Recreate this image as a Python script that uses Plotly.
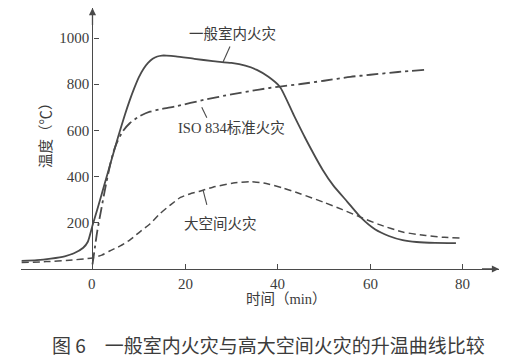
import plotly.graph_objects as go

# ---- data ----
room_t = [-15.3, -12, -9, -6, -4, -2, -1, 0, 1, 2, 3, 4, 5, 6, 7, 8, 9, 10, 11, 12, 13, 14, 15, 16,
          18, 22, 26, 30, 33, 35.5, 38, 40.5, 43.5, 46, 49.7, 52, 55, 58, 61, 64, 67, 70, 74, 78.5]
room_v = [35, 38, 45, 55, 68, 92, 118, 188, 255, 325, 395, 465, 535, 603, 668, 728, 782, 830, 866, 892, 910, 920, 924, 924,
          921, 910, 900, 892, 880, 862, 832, 788, 665, 565, 430, 362, 292, 222, 172, 143, 125, 117, 113, 112]

iso_t = [0, 0.5, 1, 2, 3, 3.8, 4.5, 5.2, 6.5, 8.1, 10, 12.4, 15, 18.2, 24, 30, 36, 40.5, 45, 50, 55.7, 60, 66, 72]
iso_v = [20, 90, 160, 270, 375, 450, 505, 544, 595, 632, 660, 681, 693, 705, 732, 756, 777, 790, 801, 815, 832, 841, 853, 863]

big_t = [-15.3, -10, -5, 0, 2, 3.7, 6, 8.1, 10.3, 12.4, 14.6, 17, 19, 21, 23.2, 26, 30.4, 34, 37, 41.1, 45,
         49.8, 54, 57.8, 62, 67, 72, 76, 79.3]
big_v = [28, 32, 38, 48, 60, 78, 100, 126, 162, 195, 240, 280, 310, 325, 337, 354, 372, 378, 372, 351, 325,
         290, 257, 225, 192, 160, 145, 137, 134]

x_ticks = [0, 20, 40, 60, 80]
y_ticks = [200, 400, 600, 800, 1000]

label_room = "一般室内火灾"
label_iso = "ISO 834标准火灾"
label_big = "大空间火灾"
x_title = "时间（min）"
y_title = "温度（℃）"
caption = "图 6\u3000一般室内火灾与高大空间火灾的升温曲线比较"

# ---- figure ----
X_RANGE = [-15.44, 87.8]
Y_RANGE = [0, 1130]
LINE = "#4a4a4a"
TXT = "#3c3c3c"
SERIF = "Liberation Serif, Noto Sans CJK SC, serif"
CJK = "Noto Sans CJK SC, Liberation Serif, sans-serif"

fig = go.Figure()
fig.add_trace(go.Scatter(x=room_t, y=room_v, mode="lines", line=dict(color=LINE, width=1.8, shape="spline", smoothing=0.6),
                         showlegend=False, cliponaxis=False))
fig.add_trace(go.Scatter(x=iso_t, y=iso_v, mode="lines",
                         line=dict(color=LINE, width=1.8, dash="12px,4px,3px,4px", shape="spline", smoothing=0.6),
                         showlegend=False, cliponaxis=False))
fig.add_trace(go.Scatter(x=big_t, y=big_v, mode="lines",
                         line=dict(color=LINE, width=1.5, dash="7px,4px", shape="spline", smoothing=0.6),
                         showlegend=False, cliponaxis=False))

OFF = 8  # page body margin in the browser
W, H = 515 - OFF, 357 - OFF
L, R, T, B = 21 - OFF, 16, 0, 88
PW, PH = W - L - R, H - T - B
ypos = (0 - X_RANGE[0]) / (X_RANGE[1] - X_RANGE[0])


def px_x(px):
    return (px - OFF - L) / PW


def px_y(py):
    return ((H - B) - (py - OFF)) / PH


fig.update_layout(
    width=W, height=H, margin=dict(l=L, r=R, t=T, b=B, autoexpand=False),
    paper_bgcolor="white", plot_bgcolor="white",
    xaxis=dict(range=X_RANGE, tickvals=x_ticks, showticklabels=False,
               showgrid=False, zeroline=False, showline=True, linecolor=LINE, linewidth=1.3,
               ticks="inside", ticklen=5, tickcolor=LINE, tickwidth=1.2, automargin=False),
    yaxis=dict(range=Y_RANGE, tickvals=y_ticks, ticktext=[str(v) for v in y_ticks],
               anchor="free", position=ypos, automargin=False,
               showgrid=False, zeroline=False, showline=True, linecolor=LINE, linewidth=1.3,
               ticks="inside", ticklen=5, tickcolor=LINE, tickwidth=1.2,
               tickfont=dict(family=SERIF, size=15, color=TXT)),
)

ann = []
# axis arrowheads
ann.append(dict(x=X_RANGE[1], y=0, ax=X_RANGE[1] - 4, ay=0, xref="x", yref="y", axref="x", ayref="y",
                text="", showarrow=True, arrowhead=2, arrowsize=1.1, arrowwidth=1.3, arrowcolor=LINE))
ann.append(dict(x=0, y=Y_RANGE[1], ax=0, ay=Y_RANGE[1] - 80, xref="x", yref="y", axref="x", ayref="y",
                text="", showarrow=True, arrowhead=2, arrowsize=1.1, arrowwidth=1.3, arrowcolor=LINE))
# x tick labels
for v in x_ticks:
    ann.append(dict(x=v, y=0, xref="x", yref="y", text=str(v), showarrow=False, yshift=-15,
                    xanchor="center", yanchor="middle", font=dict(family=SERIF, size=15, color=TXT)))
# series labels
ann.append(dict(x=30.2, y=1022, xref="x", yref="y", text=label_room, showarrow=False,
                xanchor="center", yanchor="middle", font=dict(family=CJK, size=14.5, color=TXT)))
ann.append(dict(x=30.0, y=612, xref="x", yref="y", text=label_iso, showarrow=False,
                xanchor="center", yanchor="middle", font=dict(family=SERIF, size=14.5, color=TXT)))
ann.append(dict(x=27.6, y=203, xref="x", yref="y", text=label_big, showarrow=False,
                xanchor="center", yanchor="middle", font=dict(family=CJK, size=14.5, color=TXT)))
# axis titles
ann.append(dict(x=px_x(286), y=px_y(299), xref="paper", yref="paper", text=x_title, showarrow=False,
                xanchor="center", yanchor="middle", font=dict(family=SERIF, size=14.5, color=TXT)))
ann.append(dict(x=px_x(44), y=px_y(132), xref="paper", yref="paper", text=y_title, textangle=-90,
                showarrow=False, xanchor="center", yanchor="middle", font=dict(family=CJK, size=14.5, color=TXT)))
# caption
ann.append(dict(x=px_x(268), y=px_y(344), xref="paper", yref="paper", text=caption, showarrow=False,
                xanchor="center", yanchor="middle", font=dict(family=CJK, size=19, color=TXT)))
fig.update_layout(annotations=ann)

# leader lines from labels to curves
leaders = [((29.7, 963), (28.2, 896)), ((24.7, 655), (23.6, 700)), ((23.9, 340), (24.7, 278))]
for (x0, y0), (x1, y1) in leaders:
    fig.add_shape(type="line", x0=x0, y0=y0, x1=x1, y1=y1, xref="x", yref="y",
                  line=dict(color=LINE, width=1.1))

fig.write_html("out.html")
